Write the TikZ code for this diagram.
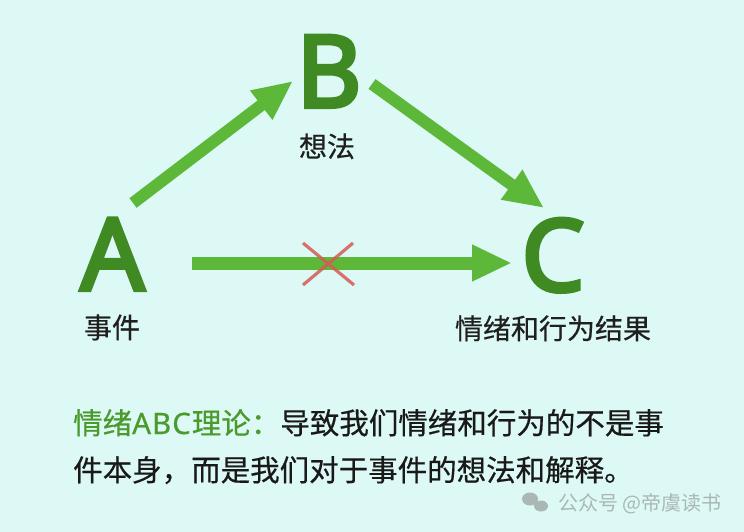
\documentclass[tikz,border=0pt]{standalone}
\usepackage{fontspec}
\setmainfont{Noto Sans}
\newfontfamily\cjk{Noto Sans CJK SC}
\newfontfamily\cjkb{Noto Sans CJK SC}[FakeBold=0.5]
\newfontfamily\bigfont{Noto Sans}[FakeBold=4]
\usetikzlibrary{arrows.meta}
\definecolor{bgc}{HTML}{DDF9F5}
\definecolor{lettergreen}{HTML}{3F8A22}
\definecolor{arrowgreen}{HTML}{5DB83A}
\definecolor{titlegreen}{HTML}{4A9A2C}
\definecolor{crossred}{HTML}{D65A55}
\definecolor{wmgrey}{HTML}{A9B7B5}
\tikzset{
  big/.style={inner sep=0pt, anchor=base, text depth=0pt, text=lettergreen, font=\bigfont\fontsize{100}{100}\selectfont},
  lbl/.style={inner sep=0pt, anchor=base, text height=20pt, text=black!88, font=\cjkb\fontsize{28}{28}\selectfont},
  para/.style={inner sep=0pt, anchor=base west, text=black!90, font=\cjkb\fontsize{29.5}{29.5}\selectfont},
  fatarrow/.style={draw=arrowgreen, line width=12pt, -{Triangle[length=40pt,width=34pt]}},
  crossline/.style={draw=crossred, line width=3.2pt, opacity=0.85},
}
\begin{document}
\begin{tikzpicture}[x=1pt,y=-1pt]
\fill[bgc] (0,0) rectangle (744,532);
\useasboundingbox (0,0) rectangle (744,532);
% letters
\node[big] (A) at (112.5,290) {A};
\node[big] (B) at (329,107) {B};
\node[big] (C) at (553,291) {C};
% labels
\node[lbl] (lA) at (112,338) {事件};
\node[lbl] (lB) at (327,157) {想法};
\node[lbl] (lC) at (553,339) {情绪和行为结果};
% arrow end points
\coordinate (a1) at (133,203);
\coordinate (b1) at (293,81);
\coordinate (b2) at (372,84);
\coordinate (c1) at (544,208);
\coordinate (a2) at (192,263);
\coordinate (c2) at (512,263);
\draw[fatarrow] (a1) -- (b1);
\draw[fatarrow] (b2) -- (c1);
\draw[fatarrow, line width=13pt] (a2) -- (c2);
% cross
\coordinate (x1) at (303,243);
\coordinate (x2) at (354,285);
\coordinate (x3) at (353,243);
\coordinate (x4) at (303,285);
\draw[crossline] (x1) -- (x2);
\draw[crossline] (x3) -- (x4);
% paragraph
\node[para] (p1) at (73,434) {\textcolor{titlegreen}{情绪{\fontspec{Noto Sans}[FakeBold=0.5]A\kern1ptB\kern1ptC\kern1pt}理论：}导致我们情绪和行为的不是事};
\node[para] (p2) at (73,481) {件本身，而是我们对于事件的想法和解释。};
% watermark
\fill[wmgrey] (530,499) ellipse (8pt and 6.5pt);
\fill[wmgrey] (541,506) ellipse (7pt and 5.5pt);
\node[inner sep=0pt, anchor=base west, text=wmgrey, font=\cjk\fontsize{20}{20}\selectfont] (wm) at (558,510) {公众号 @帝虞读书};
\end{tikzpicture}
\end{document}
